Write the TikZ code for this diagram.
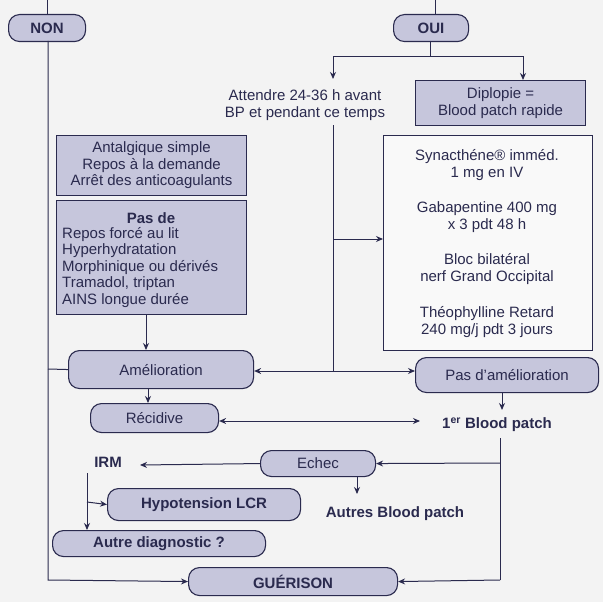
\documentclass[tikz,border=0pt]{standalone}
\usepackage{fontspec}
\setmainfont{Liberation Sans}
\usetikzlibrary{arrows.meta}
\definecolor{bg}{HTML}{F3F3F3}
\definecolor{fillc}{HTML}{C6C6DC}
\definecolor{ink}{HTML}{2A2A4E}
\begin{document}
\begin{tikzpicture}[x=1pt,y=-1pt,
  every node/.style={font=\fontsize{15}{16.5}\selectfont, text=ink, inner sep=0pt},
  bf/.style={font=\fontsize{15}{16.5}\selectfont\bfseries},
  pill/.style={draw=ink, line width=1.1pt, fill=fillc, rounded corners=11pt, anchor=north west},
  box/.style={draw=ink, line width=1.1pt, anchor=north west},
  ln/.style={draw=ink, line width=1pt},
  arr/.style={ln, -{Stealth[length=7pt,width=6pt]}},
  darr/.style={ln, {Stealth[length=7pt,width=6pt]}-{Stealth[length=7pt,width=6pt]}}]
\fill[bg] (0,0) rectangle (603,602);
\useasboundingbox (0,0) rectangle (603,602);
% rounded nodes
\node[pill, minimum width=77pt, minimum height=27pt] (non) at (8,14) {};
\node[bf] at (non.center) {NON};
\node[pill, minimum width=75pt, minimum height=27pt] (oui) at (393,14) {};
\node[bf] at (oui.center) {OUI};
\node[pill, minimum width=185pt, minimum height=38pt] (ame) at (68,350) {Amélioration};
\node[pill, minimum width=183pt, minimum height=35pt] (pas) at (415,357) {Pas d'amélioration};
\node[pill, minimum width=128pt, minimum height=29pt] (rec) at (90,403) {Récidive};
\node[pill, minimum width=115pt, minimum height=26pt] (ech) at (260,450) {Echec};
\node[pill, bf, minimum width=193pt, minimum height=32pt] (hyp) at (107,488) {Hypotension LCR};
\node[pill, bf, minimum width=213pt, minimum height=26pt] (aut) at (52,530) {Autre diagnostic ?};
\node[pill, bf, minimum width=209pt, minimum height=28pt] (gue) at (188,567) {GUÉRISON};
% boxes
\node[box, fill=fillc, minimum width=170pt, minimum height=45pt, align=center] (dip) at (415,80) {Diplopie =\\Blood patch rapide};
\node[box, fill=fillc, minimum width=190pt, minimum height=60pt, align=center] (ant) at (56,135) {Antalgique simple\\Repos à la demande\\Arrêt des anticoagulants};
\node[box, fill=fillc, minimum width=190pt, minimum height=114pt] (pde) at (56,200) {};
\node[bf] at (151,218) {Pas de};
\node[anchor=north west, align=left] at (62,227) {Repos forcé au lit\\Hyperhydratation\\Morphinique ou dérivés\\Tramadol, triptan\\AINS longue durée};
\node[box, fill=white!50!bg, minimum width=209pt, minimum height=215pt] (big) at (383,135) {};
\node[align=center] at (487,165) {Synacthéne® imméd.\\1 mg en IV};
\node[align=center] at (487,217) {Gabapentine 400 mg\\x 3 pdt 48 h};
\node[align=center] at (487,269) {Bloc bilatéral\\nerf Grand Occipital};
\node[align=center] at (487,322) {Théophylline Retard\\240 mg/j pdt 3 jours};
% plain texts
\node[align=center] (att) at (305,105) {Attendre 24-36 h avant\\BP et pendant ce temps};
\node[bf] (bp1) at (497,425) {1\textsuperscript{er} Blood patch};
\node[bf] (irm) at (108,462) {IRM};
\node[bf] (abp) at (395,514) {Autres Blood patch};
% coordinates
\coordinate (j1) at (333,125);
\coordinate (jb) at (500,438);
\coordinate (ib) at (87,473);
% connectors
\draw[ln] (non.north) -- ++(0,-14);
\draw[ln] (435,14) -- (435,0);
\draw[arr] (48,41) -- (48,580) -- (gue.west);
\draw[ln] (48,369) -- (ame.west);
\draw[ln] (430,41) -- (430,57);
\draw[arr] (430,57) -- (333,57) -- (333,79);
\draw[arr] (430,57) -- (523,57) -- (dip.north -| 523,0);
\draw[ln] (j1) -- (333,371);
\draw[arr] (333,239) -- (big.west |- 0,239);
\draw[darr] (ame.east |- 0,371) -- (pas.west |- 0,371);
\draw[arr] (146,314) -- (146,350);
\draw[arr] (148,388) -- (148,403);
\draw[darr] (rec.east |- 0,421) -- (420,421);
\draw[arr] (502,392) -- (502,410);
\draw[ln] (jb) -- (500,580);
\draw[arr] (500,580) -- (gue.east);
\draw[arr] (500,463) -- (ech.east);
\draw[arr] (ech.west) -- (140,465);
\draw[arr] (357,476) -- (357,494);
\draw[arr] (ib) -- (87,530);
\draw[arr] (87,502) -- (hyp.west);
\end{tikzpicture}
\end{document}
